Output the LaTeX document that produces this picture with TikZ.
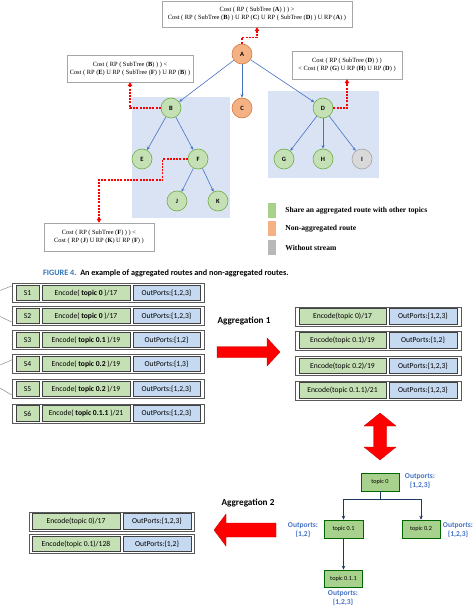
\documentclass[tikz,border=0pt]{standalone}
\usepackage{fontspec}
\setmainfont{Liberation Serif}
\newfontfamily\calibri{Carlito}
\usepackage{xcolor}
\usetikzlibrary{positioning, calc, arrows.meta}
\definecolor{leafgreen}{HTML}{C5E0B4}
\definecolor{leafedge}{HTML}{70AD47}
\definecolor{rootorange}{HTML}{F4B183}
\definecolor{rootedge}{HTML}{C55A11}
\definecolor{nostream}{HTML}{D9D9D9}
\definecolor{nostreamedge}{HTML}{A5A5A5}
\definecolor{subtree}{HTML}{DAE3F3}
\definecolor{linkblue}{HTML}{4472C4}
\definecolor{cellgreen}{HTML}{C5E0B4}
\definecolor{cellblue}{HTML}{C5D9F1}
\definecolor{navyline}{HTML}{203864}
\definecolor{topicgreen}{HTML}{A9D18E}
\definecolor{portblue}{HTML}{4472C4}
\definecolor{figblue}{HTML}{2E75B6}

\begin{document}
\begin{tikzpicture}[x=1pt, y=-1pt,
        topic/.style={circle, draw=leafedge, fill=leafgreen, line width=0.6pt, minimum size=20pt, inner sep=0pt, font=\calibri\bfseries\fontsize{6.5}{7}\selectfont},
        plain/.style={topic, draw=rootedge!80, fill=rootorange},
        silent/.style={topic, draw=nostreamedge, fill=nostream},
        link/.style={linkblue, line width=0.6pt, -{Stealth[length=3.5pt, width=3pt]}},
        redpath/.style={red, line width=1.1pt, dash pattern=on 2pt off 1.2pt, -{Triangle[length=4pt, width=4.5pt]}},
        costbox/.style={draw=black!35, fill=white, inner sep=0pt, align=center, font=\fontsize{6.4}{8}\selectfont},
        legsq/.style={minimum width=8pt, minimum height=15pt, inner sep=0pt},
        legtext/.style={inner sep=0pt, font=\bfseries\fontsize{7.6}{8}\selectfont},
        rowbox/.style={draw=black!65, line width=0.8pt, minimum height=19pt, inner sep=0pt},
        gcell/.style={draw=black!75, line width=0.6pt, fill=cellgreen, minimum height=15.5pt, inner sep=0pt, font=\calibri\fontsize{7.6}{8}\selectfont},
        bcell/.style={gcell, fill=cellblue},
        tbox/.style={draw=black!60!green, line width=0.6pt, fill=topicgreen, minimum width=38pt, minimum height=18pt, inner sep=0pt, font=\calibri\fontsize{6.2}{7}\selectfont},
        tlink/.style={navyline, line width=0.7pt, -{Stealth[length=4pt, width=3.5pt]}},
        ports/.style={portblue, align=center, inner sep=0pt, font=\calibri\bfseries\fontsize{7.5}{9}\selectfont},
        aggr/.style={inner sep=0pt, font=\calibri\bfseries\fontsize{9.2}{10}\selectfont},
        bigarrow/.style={fill=red, draw=red!75!black, line width=0.3pt},
        stub/.style={black!45, line width=0.5pt}]
        \useasboundingbox (0,0) rectangle (474,609);

        \fill[subtree] (132,97) rectangle (230,218);
        \fill[subtree] (268,91) rectangle (379,178);

        \node[plain] (A) at (242,54) {A};
        \node[topic] (B) at (171,108) {B};
        \node[plain] (C) at (242,108) {C};
        \node[topic] (D) at (323,108) {D};
        \node[topic] (E) at (142,159) {E};
        \node[topic] (F) at (198,159) {F};
        \node[topic] (G) at (284,159) {G};
        \node[topic] (H) at (323,159) {H};
        \node[silent] (I) at (362,159) {I};
        \node[topic] (J) at (177,201) {J};
        \node[topic] (K) at (218,201) {K};

        \draw[link] (A) -- (B);
        \draw[link] (A) -- (C);
        \draw[link] (A) -- (D);
        \draw[link] (B) -- (E);
        \draw[link] (B) -- (F);
        \draw[link] (F) -- (J);
        \draw[link] (F) -- (K);
        \draw[link] (D) -- (G);
        \draw[link] (D) -- (H);
        \draw[link] (D) -- (I);

        \node[costbox, minimum width=190pt, minimum height=26pt] (costA) at (257,14) {Cost ( RP ( SubTree (\textbf{A}) ) ) >\\Cost ( RP ( SubTree (\textbf{B}) ) U RP (\textbf{C}) U RP ( SubTree (\textbf{D}) ) U RP (\textbf{A}) )};
        \node[costbox, minimum width=126pt, minimum height=27pt] (costB) at (130,68.5) {Cost ( RP ( SubTree (\textbf{B}) ) ) <\\Cost ( RP (\textbf{E}) U RP ( SubTree (\textbf{F}) ) U RP (\textbf{B}) )};
        \node[costbox, minimum width=110pt, minimum height=28pt] (costD) at (347,65) {Cost ( RP ( SubTree (\textbf{D}) ) )\\< Cost ( RP (\textbf{G}) U RP (\textbf{H}) U RP (\textbf{D}) )};
        \node[costbox, minimum width=110pt, minimum height=28pt] (costF) at (99,237) {Cost ( RP ( SubTree (\textbf{F}) ) ) <\\Cost ( RP (\textbf{J}) U RP (\textbf{K}) U RP (\textbf{F}) )};

        \draw[redpath] (A.north) -- ++(0,-6) -| (costA.south);
        \draw[redpath] (B.west) -| (costB.south);
        \draw[redpath] (D.east) -| (costD.south);
        \draw[redpath] (F.west) -- ++(-25,0) -- ++(0,21) -| (costF.north);

        \node[legsq, fill=topicgreen] (lg1) at (272,210.5) {};
        \node[legsq, fill=rootorange] (lg2) at (272,229) {};
        \node[legsq, fill=nostream!85!black] (lg3) at (272,247.5) {};
        \node[legtext, right=9pt of lg1] (lt1) {Share an aggregated route with other topics};
        \node[legtext, right=9pt of lg2] (lt2) {Non-aggregated route};
        \node[legtext, right=9pt of lg3] (lt3) {Without stream};

        \node[anchor=west, inner sep=0pt, font=\calibri\bfseries\fontsize{8.2}{9}\selectfont] (cap) at (43,273) {\textcolor{figblue}{FIGURE 4.}\ \ An example of aggregated routes and non-aggregated routes.};

        \foreach \i/\y/\t/\n/\p in {1/293/topic 0/17/{1,2,3}, 2/316/topic 0/17/{1,2,3}, 3/340/topic 0.1/19/{1,2}, 4/364/topic 0.2/19/{1,3}, 5/389/topic 0.2/19/{1,2,3}, 6/413.5/topic 0.1.1/21/{1,2,3}} {
            \node[rowbox, minimum width=192pt] (r\i) at (108,\y) {};
            \node[gcell, minimum width=23pt] (s\i) at (27.5,\y) {S\i};
            \node[gcell, minimum width=88pt] (e\i) at (86,\y) {Encode( \textbf{\t} )/\n};
            \node[bcell, minimum width=67pt] (o\i) at (166.5,\y) {OutPorts:\{\p\}};
        }

        \coordinate (w1) at (0,290.5);
        \coordinate (w2) at (0,316.5);
        \coordinate (w4) at (0,365);
        \coordinate (w5) at (0,388);
        \draw[stub] (w1) -- ([yshift=7pt]r1.west);
        \draw[stub] (w2) -- ([yshift=-6pt]r2.west);
        \draw[stub] (w4) -- ([yshift=4pt]r4.west);
        \draw[stub] (w5) -- ([yshift=-6pt]r5.west);

        \foreach \i/\y/\t/\n/\p in {1/316.5/topic 0/17/{1,2,3}, 2/340.5/topic 0.1/19/{1,2}, 3/366/topic 0.2/19/{1,2,3}, 4/390.5/topic 0.1.1/21/{1,2,3}} {
            \node[rowbox, minimum width=166pt] (ra\i) at (378,\y) {};
            \node[gcell, minimum width=87pt] (ea\i) at (342.5,\y) {Encode(\t)/\n};
            \node[bcell, minimum width=68pt] (oa\i) at (423,\y) {OutPorts:\{\p\}};
        }

        \foreach \i/\y/\t/\n/\p in {1/521.5/topic 0/17/{1,2,3}, 2/544/topic 0.1/128/{1,2}} {
            \node[rowbox, minimum width=165pt] (rb\i) at (111.5,\y) {};
            \node[gcell, minimum width=88pt] (eb\i) at (76,\y) {Encode(\t)/\n};
            \node[bcell, minimum width=68pt] (ob\i) at (157,\y) {OutPorts:\{\p\}};
        }

        \node[aggr] (ag1) at (244,321) {Aggregation 1};
        \node[aggr] (ag2) at (248,503) {Aggregation 2};

        \draw[bigarrow] (217,346.5) -- (267,346.5) -- (267,338) -- (280,352) -- (267,366) -- (267,357.5) -- (217,357.5) -- cycle;
        \draw[bigarrow] (380,413) -- (396,426) -- (386.5,426) -- (386.5,447) -- (396,447) -- (380,460) -- (364,447) -- (373.5,447) -- (373.5,426) -- (364,426) -- cycle;
        \draw[bigarrow] (214,530) -- (226,514) -- (226,523) -- (276,523) -- (276,537) -- (226,537) -- (226,546) -- cycle;

        \node[tbox] (t0) at (380,482) {topic 0};
        \node[tbox, minimum width=39pt] (t01) at (343.5,529) {topic 0.1};
        \node[tbox] (t02) at (421,529) {topic 0.2};
        \node[tbox, minimum height=17pt] (t011) at (343.5,578.5) {topic 0.1.1};

        \draw[tlink] (t0.south) -- ++(0,8) -| (t01.north);
        \draw[tlink] (t0.south) -- ++(0,8) -| (t02.north);
        \draw[tlink] (t01) -- (t011);

        \node[ports] (p0) at (420,481.5) {Outports:\\\{1,2,3\}};
        \node[ports] (p01) at (303,530) {Outports:\\\{1,2\}};
        \node[ports] (p02) at (458,530) {Outports:\\\{1,2,3\}};
        \node[ports] (p011) at (343,598.5) {Outports:\\\{1,2,3\}};
    \end{tikzpicture}
\end{document}
